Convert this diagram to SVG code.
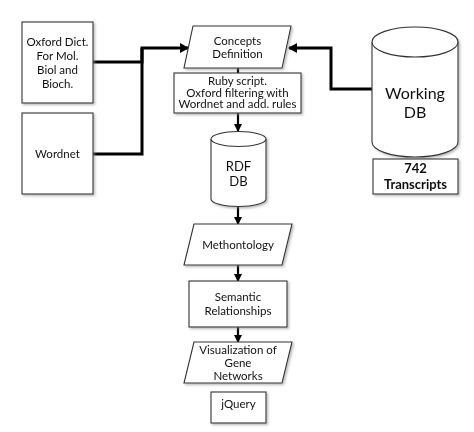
<svg xmlns="http://www.w3.org/2000/svg" width="474" height="432" viewBox="0 0 474 432">
<defs>
<style>
.s{fill:#fff;stroke:#333;stroke-width:1.1}
.t{font-family:Lato,"Liberation Sans",sans-serif;font-size:11.5px;fill:#111;text-anchor:middle}
.big{font-size:16px}
.b{font-weight:bold;font-size:13px}
.c{fill:none;stroke:#000;stroke-width:3}
.c1{fill:none;stroke:#000;stroke-width:2.2}
</style>
<filter id="sh" x="-10%" y="-10%" width="130%" height="130%">
<feDropShadow dx="1.5" dy="1.5" stdDeviation="0.8" flood-color="#888" flood-opacity="0.6"/>
</filter>
<marker id="ah" markerWidth="10" markerHeight="10" refX="8" refY="5" orient="auto" markerUnits="userSpaceOnUse">
<path d="M0,0 L9,5 L0,10 Z" fill="#000"/>
</marker>
<marker id="ah2" markerWidth="8" markerHeight="8" refX="7" refY="4" orient="auto" markerUnits="userSpaceOnUse">
<path d="M0,0 L8,4 L0,8 Z" fill="#000"/>
</marker>
</defs>
<rect width="474" height="432" fill="#fff"/>
<g id="connectors">
<polyline class="c" points="93,62 142,62 142,48 188,48" marker-end="url(#ah)"/>
<polyline class="c" points="93,154 142,154 142,48"/>
<polyline class="c" points="372,89 331,89 331,48 289,48" marker-end="url(#ah)"/>
<line class="c1" x1="238" y1="68" x2="238" y2="73"/>
<line class="c1" x1="238" y1="113" x2="238" y2="131" marker-end="url(#ah2)"/>
<line class="c1" x1="238" y1="207" x2="238" y2="224" marker-end="url(#ah2)"/>
<line class="c1" x1="238" y1="265" x2="238" y2="281" marker-end="url(#ah2)"/>
<line class="c1" x1="238" y1="327" x2="238" y2="342" marker-end="url(#ah2)"/>
</g>
<g id="oxford" filter="url(#sh)">
<rect class="s" x="22" y="22" width="71" height="81"/>
<text class="t" x="57.5" y="46">Oxford Dict.</text>
<text class="t" x="57.5" y="60">For Mol.</text>
<text class="t" x="57.5" y="74">Biol and</text>
<text class="t" x="57.5" y="88">Bioch.</text>
</g>
<g id="wordnet" filter="url(#sh)">
<rect class="s" x="22" y="113" width="71" height="81"/>
<text class="t" x="57.5" y="158">Wordnet</text>
</g>
<g id="concepts" filter="url(#sh)">
<polygon class="s" points="193,26 291,26 282,68 184,68"/>
<text class="t" x="237.5" y="45">Concepts</text>
<text class="t" x="237.5" y="58">Definition</text>
</g>
<g id="ruby" filter="url(#sh)">
<rect class="s" x="174" y="73" width="127" height="40"/>
<text class="t" x="237.5" y="85">Ruby script.</text>
<text class="t" x="237.5" y="96.5">Oxford filtering with</text>
<text class="t" x="237.5" y="108">Wordnet and add. rules</text>
</g>
<g id="rdf" filter="url(#sh)">
<path class="s" d="M211,139 A27.5,7.5 0 0 1 266,139 L266,199 A27.5,7.5 0 0 1 211,199 Z"/>
<path class="s" d="M211,139 A27.5,7.5 0 0 0 266,139" fill="none"/>
<text class="t" x="238.5" y="171" style="font-size:13px">RDF</text>
<text class="t" x="238.5" y="186" style="font-size:13px">DB</text>
</g>
<g id="workingdb" filter="url(#sh)">
<path class="s" d="M372,42 A43,15 0 0 1 458,42 L458,142 A43,15 0 0 1 372,142 Z"/>
<path class="s" d="M372,42 A43,15 0 0 0 458,42" fill="none"/>
<text class="t big" x="415" y="99">Working</text>
<text class="t big" x="415" y="118">DB</text>
</g>
<g id="transcripts" filter="url(#sh)">
<rect class="s" x="373" y="159" width="85" height="35"/>
<text class="t b" x="415.5" y="173">742</text>
<text class="t b" x="415.5" y="189">Transcripts</text>
</g>
<g id="methontology" filter="url(#sh)">
<polygon class="s" points="194,224 292,224 282,265 184,265"/>
<text class="t" x="238" y="249">Methontology</text>
</g>
<g id="semantic" filter="url(#sh)">
<rect class="s" x="189" y="281" width="98" height="46"/>
<text class="t" x="238" y="301">Semantic</text>
<text class="t" x="238" y="315">Relationships</text>
</g>
<g id="visualization" filter="url(#sh)">
<polygon class="s" points="194,342 292,342 282,383 184,383"/>
<text class="t" x="238" y="354">Visualization of</text>
<text class="t" x="238" y="367">Gene</text>
<text class="t" x="238" y="380">Networks</text>
</g>
<g id="jquery" filter="url(#sh)">
<rect class="s" x="211" y="392" width="55" height="31"/>
<text class="t" x="238.5" y="408">jQuery</text>
</g>
</svg>
